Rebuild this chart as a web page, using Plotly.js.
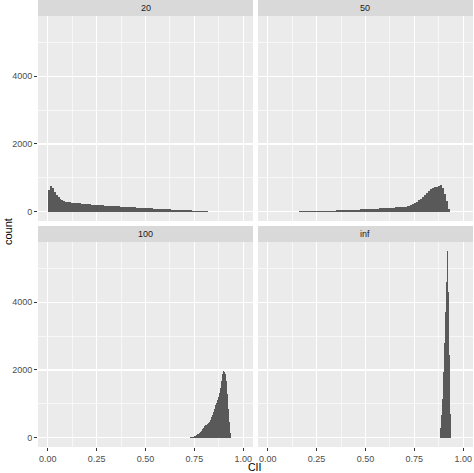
<!DOCTYPE html>
<html>
<head>
<meta charset="utf-8">
<script src="https://cdn.plot.ly/plotly-3.0.1.min.js"></script>
<style>
  html, body { margin: 0; padding: 0; background: #fff; }
  #chart { width: 474px; height: 473px; }
</style>
</head>
<body>
<div id="chart"></div>
<script>
// Facetten (Panel-Titel)
const panels = ["20", "50", "100", "inf"];

// Histogramm-Klassen: erste Klassengrenze und Breite je Panel
const binStart = [0.0, 0.13, 0.725, 0.88];
const binWidth = [0.01, 0.01, 0.005, 0.005];

// Zaehlwerte
const counts20 = [
  640, 765, 690, 585, 500, 420, 378, 338, 318, 296,
  288, 272, 270, 258, 254, 244, 242, 233, 231, 222,
  221, 212, 210, 203, 202, 194, 193, 186, 186, 179,
  179, 173, 173, 166, 166, 160, 159, 150, 152, 145,
  144, 137, 139, 130, 128, 121, 123, 116, 112, 108,
  104, 100, 99, 94, 93, 88, 88, 82, 83, 77,
  76, 70, 70, 64, 63, 58, 57, 51, 52, 46,
  45, 40, 40, 35, 34, 29, 28, 23, 21, 17,
  14, 9, 4
];
const counts50 = [
  3, 4, 5, 6, 7, 8, 10, 10, 12, 13,
  15, 15, 17, 19, 20, 22, 23, 25, 28, 29,
  31, 34, 35, 38, 40, 43, 45, 47, 51, 52,
  56, 58, 62, 63, 67, 69, 74, 75, 80, 81,
  86, 87, 92, 93, 98, 99, 105, 106, 111, 113,
  118, 121, 127, 128, 135, 137, 144, 148, 158, 170,
  188, 214, 246, 286, 332, 386, 442, 502, 560, 618,
  662, 692, 714, 728, 762, 785, 700, 515, 305, 90
];
const counts100 = [
  5, 10, 15, 22, 28, 38, 55, 78, 100, 122,
  145, 172, 210, 250, 292, 330, 360, 385, 405, 432,
  470, 530, 600, 680, 760, 850, 950, 1030, 1110, 1200,
  1320, 1480, 1680, 1880, 1965, 1950, 1880, 1680, 1300, 860,
  460, 130
];
const countsInf = [
  300, 680, 1150, 1950, 2800, 3700, 4600, 5500, 4300, 2450,
  700
];

const allCounts = [counts20, counts50, counts100, countsInf];

// Achsen
const xTicks = [0, 0.25, 0.5, 0.75, 1];
const xTickText = ["0.00", "0.25", "0.50", "0.75", "1.00"];
const yTicks = [0, 2000, 4000];
const yTickText = ["0", "2000", "4000"];

const barColor = "#595959";
const panelBg = "#EBEBEB";
const stripBg = "#D9D9D9";

// Panel-Bereiche (Papierkoordinaten)
const xDom = [
  [0, 0.4943],
  [0.5057, 1],
];
const yDom = [
  [0.5056, 0.9642],
  [0, 0.4586],
];
const stripTop = [1.0, 0.4944];

const traces = allCounts.map((c, i) => {
  const x = c.map((_, j) => binStart[i] + (j + 0.5) * binWidth[i]);
  const sfx = i === 0 ? "" : String(i + 1);
  return {
    type: "bar",
    x: x,
    y: c,
    width: binWidth[i],
    xaxis: "x" + sfx,
    yaxis: "y" + sfx,
    marker: { color: barColor, line: { width: 0 } },
    hoverinfo: "skip",
    showlegend: false,
  };
});

const tickFont = { family: "Liberation Sans, Arial, sans-serif", size: 9, color: "#4D4D4D" };

const layout = {
  width: 474,
  height: 473,
  margin: { l: 38, r: 1, t: 0, b: 26 },
  paper_bgcolor: "#FFFFFF",
  plot_bgcolor: panelBg,
  bargap: 0,
  showlegend: false,
  font: { family: "Liberation Sans, Arial, sans-serif" },
  shapes: [],
  annotations: [],
};

panels.forEach((p, i) => {
  const col = i % 2;
  const row = Math.floor(i / 2);
  const sfx = i === 0 ? "" : String(i + 1);
  layout["xaxis" + sfx] = {
    domain: xDom[col],
    anchor: "y" + sfx,
    range: [-0.05, 1.05],
    tickmode: "array",
    tickvals: xTicks,
    ticktext: xTickText,
    showticklabels: row === 1,
    ticks: row === 1 ? "outside" : "",
    ticklen: 3,
    tickwidth: 1,
    tickcolor: "#333333",
    tickfont: tickFont,
    showgrid: true,
    gridcolor: "#FFFFFF",
    gridwidth: 1.2,
    minor: { dtick: 0.125, tick0: 0.125, showgrid: true, gridcolor: "#FFFFFF", gridwidth: 0.6 },
    zeroline: false,
    showline: false,
    fixedrange: true,
  };
  layout["yaxis" + sfx] = {
    domain: yDom[row],
    anchor: "x" + sfx,
    range: [-275, 5775],
    tickmode: "array",
    tickvals: yTicks,
    ticktext: yTickText,
    showticklabels: col === 0,
    ticks: col === 0 ? "outside" : "",
    ticklen: 3,
    tickwidth: 1,
    tickcolor: "#333333",
    tickfont: tickFont,
    showgrid: true,
    gridcolor: "#FFFFFF",
    gridwidth: 1.2,
    minor: { dtick: 1000, tick0: 1000, showgrid: true, gridcolor: "#FFFFFF", gridwidth: 0.6 },
    zeroline: false,
    showline: false,
    fixedrange: true,
  };

  // Streifen mit Facettentitel
  layout.shapes.push({
    type: "rect",
    xref: "paper",
    yref: "paper",
    x0: xDom[col][0],
    x1: xDom[col][1],
    y0: yDom[row][1],
    y1: stripTop[row],
    fillcolor: stripBg,
    line: { width: 0 },
    layer: "below",
  });
  layout.annotations.push({
    xref: "paper",
    yref: "paper",
    x: (xDom[col][0] + xDom[col][1]) / 2,
    y: (yDom[row][1] + stripTop[row]) / 2,
    text: p,
    showarrow: false,
    xanchor: "center",
    yanchor: "middle",
    font: { size: 9, color: "#1A1A1A" },
  });
});

// Achsentitel
layout.annotations.push({
  xref: "paper",
  yref: "paper",
  x: 0.497,
  y: -0.061,
  text: "CII",
  showarrow: false,
  xanchor: "center",
  yanchor: "bottom",
  borderpad: 0,
  font: { size: 10.5, color: "#000000" },
});
layout.annotations.push({
  xref: "paper",
  yref: "paper",
  x: -0.069,
  y: 0.483,
  text: "count",
  textangle: -90,
  showarrow: false,
  xanchor: "center",
  yanchor: "middle",
  font: { size: 11, color: "#000000" },
});

Plotly.newPlot("chart", traces, layout, { staticPlot: true, displayModeBar: false });
</script>
</body>
</html>
